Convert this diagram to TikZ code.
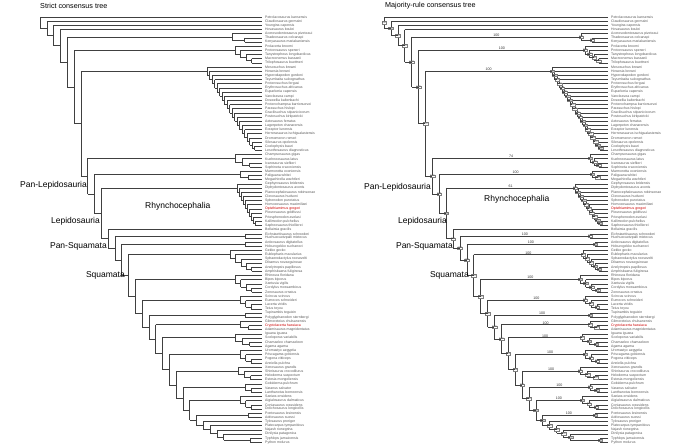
\documentclass[tikz,border=0pt]{standalone}
\usepackage{fontspec}
\setmainfont{Liberation Sans}
\begin{document}
\begin{tikzpicture}[x=1pt,y=-1pt,
  br/.style={line width=0.6pt,draw=black!75},
  leaf/.style={anchor=west,inner sep=0pt,font=\fontsize{3.5}{3.8}\selectfont,text=black!65},
  red/.style={text=red!80!black},
  nl/.style={inner sep=0.2pt,fill=white,draw=black!50,line width=0.2pt,font=\fontsize{2.6}{2.8}\selectfont,text=black!70},
  bl/.style={inner sep=0.3pt,font=\fontsize{3.6}{4}\selectfont,text=black!80,anchor=south},
  cl/.style={inner sep=0pt,font=\fontsize{8.5}{9}\selectfont},
  tt/.style={inner sep=0pt,font=\fontsize{7.2}{8}\selectfont,anchor=west}]
\useasboundingbox (0,0) rectangle (685,447);
\newcommand\comb[5]{%
 \ifnum#1=#2\relax
  \pgfmathsetmacro\cY{17+(#1-1)*4.17}\xdef\cY{\cY}%
  \draw[br] (#3,\cY)--(#4,\cY);
 \else
  \pgfmathsetmacro\cst{(#4-5-#3)/(#2-#1)}%
  \pgfmathsetmacro\tmp{17+(#2-1)*4.17}\xdef\lowY{\tmp}\xdef\lowX{#4}%
  \pgfmathtruncatemacro\bm{#2-1}%
  \foreach \j in {\bm,...,#1}{%
    \pgfmathsetmacro\xj{#3+(\j-#1)*\cst}%
    \pgfmathsetmacro\yj{17+(\j-1)*4.17}%
    \draw[br] (\xj,\yj)--(#4,\yj) (\xj,\lowY)--(\lowX,\lowY) (\xj,\yj)--(\xj,\lowY);
    \pgfmathsetmacro\tmp{(\yj+\lowY)/2}%
    \ifnum#5=1 \node[nl] at (\xj,\tmp) {100};\fi
    \xdef\lowY{\tmp}\xdef\lowX{\xj}%
  }%
  \xdef\cY{\lowY}%
 \fi}
\newcommand\spine[5]{%
 \foreach \ea/\eb/\exl/\elb [count=\k] in {#5}{%
   \comb{\ea}{\eb}{\exl}{#3}{#4}%
   \expandafter\xdef\csname EY\k\endcsname{\cY}%
   \expandafter\xdef\csname EX\k\endcsname{\exl}%
   \expandafter\xdef\csname EL\k\endcsname{\elb}%
   \xdef\nE{\k}}%
 \pgfmathtruncatemacro\nm{\nE-1}%
 \xdef\lowY{\csname EY\nE\endcsname}\xdef\lowX{\csname EX\nE\endcsname}%
 \foreach \k in {\nm,...,1}{%
   \pgfmathsetmacro\xk{#1+(\k-1)*#2}%
   \edef\ey{\csname EY\k\endcsname}\edef\ex{\csname EX\k\endcsname}\edef\el{\csname EL\k\endcsname}%
   \draw[br] (\xk,\ey)--(\ex,\ey) (\xk,\lowY)--(\lowX,\lowY) (\xk,\ey)--(\xk,\lowY);
   \pgfmathsetmacro\tmp{(\ey+\lowY)/2}%
   \ifnum#4=1
     \node[nl] at (\xk,\tmp) {100};
     \ifnum\el>0 \node[bl] at ({(\xk+\ex)/2},\ey) {\el};\fi
   \fi
   \xdef\lowY{\tmp}\xdef\lowX{\xk}%
 }}
\def\names{Petrolacosaurus kansensis,Claudiosaurus germaini,Youngina capensis,Hovasaurus boulei,Acerosodontosaurus piveteaui,Thadeosaurus colcanapi,Kenyasaurus mariakaniensis,Prolacerta broomi,Protorosaurus speneri,Tanystropheus longobardicus,Macrocnemus bassanii,Trilophosaurus buettneri,Mesosuchus browni,Howesia browni,Hyperodapedon gordoni,Teyumbaita sulcognathus,Proterosuchus fergusi,Erythrosuchus africanus,Euparkeria capensis,Vancleavea campi,Doswellia kaltenbachi,Proterochampsa barrionuevoi,Parasuchus hislopi,Gracilisuchus stipanicicorum,Postosuchus kirkpatricki,Aetosaurus ferratus,Lagerpeton chanarensis,Eoraptor lunensis,Herrerasaurus ischigualastensis,Dromomeron romeri,Silesaurus opolensis,Coelophysis bauri,Lesothosaurus diagnosticus,Champsosaurus gigas,Kuehneosaurus latus,Icarosaurus siefkeri,Sophineta cracoviensis,Marmoretta oxoniensis,Paliguana whitei,Megachirella wachtleri,Gephyrosaurus bridensis,Diphydontosaurus avonis,Planocephalosaurus robinsonae,Clevosaurus hudsoni,Sphenodon punctatus,Homoeosaurus maximiliani,Opisthiamimus gregori,Pleurosaurus goldfussi,Priosphenodon avelasi,Kallimodon pulchellus,Sapheosaurus thiollierei,Bellairsia gracilis,Eichstaettisaurus schroederi,Huehuecuetzpalli mixtecus,Ardeosaurus digitatellus,Hoburogekko suchanovi,Gekko gecko,Eublepharis macularius,Sphaerodactylus roosevelti,Dibamus novaeguineae,Anelytropsis papillosus,Amphisbaena fuliginosa,Rhineura floridana,Bipes biporus,Xantusia vigilis,Cordylus mossambicus,Zonosaurus ornatus,Scincus scincus,Eumeces schneideri,Lacerta viridis,Teius teyou,Tupinambis teguixin,Polyglyphanodon sternbergi,Gilmoreteius chulsanensis,Cryptolacerta hassiaca,Adamisaurus magnidentatus,Iguana iguana,Sceloporus variabilis,Chamaeleo chamaeleon,Agama agama,Uromastyx aegyptia,Priscagama gobiensis,Pogona vitticeps,Anniella pulchra,Xenosaurus grandis,Shinisaurus crocodilurus,Heloderma suspectum,Estesia mongoliensis,Gobiderma pulchrum,Varanus salvator,Lanthanotus borneensis,Saniwa ensidens,Aigialosaurus dalmaticus,Coniasaurus crassidens,Dolichosaurus longicollis,Pontosaurus lesinensis,Adriosaurus suessi,Tylosaurus proriger,Platecarpus tympaniticus,Najash rionegrina,Dinilysia patagonica,Typhlops jamaicensis,Python molurus}
% left tree
\spine{40}{6.8}{262}{0}{1/1/262/0,2/2/262/0,3/3/262/0,4/4/262/0,5/7/232/0,8/12/235/0,13/33/207/0,34/37/235/0,38/40/240/0,41/51/237/0,52/52/262/0,53/54/245/0,55/56/245/0,57/62/230/0,63/67/235/0,68/71/240/0,72/73/245/0,74/76/240/0,77/80/235/0,81/84/240/0,85/88/238/0,89/91/245/0,92/95/240/0,96/97/248/0,98/98/262/0,99/99/262/0,100/100/262/0,101/101/262/0,102/103/250/0}
% right tree
\spine{384}{6.9}{608}{1}{1/1/608/0,2/2/608/0,3/3/608/0,4/4/608/0,5/7/581/100,8/12/585/100,13/33/552/100,34/37/590/74,38/40/592/100,41/51/575/61,52/52/608/0,53/54/590/100,55/56/595/100,57/62/583/100,63/67/580/100,68/71/585/100,72/73/590/100,74/76/590/100,77/80/582/100,81/84/585/100,85/88/580/100,89/91/590/100,92/95/582/100,96/97/595/100,98/98/608/0,99/99/608/0,100/100/608/0,101/101/608/0,102/103/600/100}
\foreach \n [count=\i] in \names {%
  \pgfmathsetmacro\yy{17+(\i-1)*4.17}%
  \ifnum\i=47 \def\st{red}\else\ifnum\i=75 \def\st{red}\else\def\st{}\fi\fi
  \node[leaf,\st] (l\i) at (265,\yy) {\n};
  \node[leaf,\st] (r\i) at (611,\yy) {\n};
}
\node[tt] (t1) at (40,6) {Strict consensus tree};
\node[tt] (t2) at (385,6) {Majority-rule consensus tree};
\node[cl,anchor=east] (a1) at (87,185) {Pan-Lepidosauria};
\node[cl,anchor=east] (a2) at (100,221) {Lepidosauria};
\node[cl,anchor=west] (a3) at (145,206) {Rhynchocephalia};
\node[cl,anchor=east] (a4) at (107,246) {Pan-Squamata};
\node[cl,anchor=east] (a5) at (125,275) {Squamata};
\node[cl,anchor=east] (b1) at (431,187) {Pan-Lepidosauria};
\node[cl,anchor=east] (b2) at (447,221) {Lepidosauria};
\node[cl,anchor=west] (b3) at (484,199) {Rhynchocephalia};
\node[cl,anchor=east] (b4) at (453,246) {Pan-Squamata};
\node[cl,anchor=east] (b5) at (469,275) {Squamata};
\end{tikzpicture}
\end{document}
